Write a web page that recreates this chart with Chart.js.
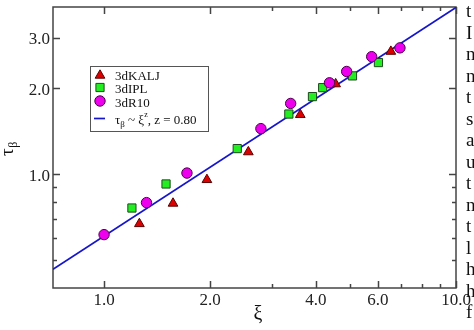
<!DOCTYPE html>
<html>
<head>
<meta charset="utf-8">
<script src="https://cdn.jsdelivr.net/npm/chart.js@4/dist/chart.umd.min.js"></script>
<style>
  html, body { margin: 0; padding: 0; background: #fff; overflow: hidden; }
  #wrap { position: relative; width: 474px; height: 330px; }
  #c { position: absolute; left: 0; top: 0; }
  #side { position: absolute; left: 466px; top: 0px; font: 19px "Liberation Serif", serif;
          line-height: 21.5px; color: #111; white-space: pre; }
</style>
</head>
<body>
<div id="wrap">
  <canvas id="c" width="474" height="330"></canvas>
  <div id="side">t
I
n
n
t
s
a
u
t
n
t
l
h
h
f</div>
</div>
<script>
// Relaxation time tau_beta versus length scale xi for three model liquids
const kaljX = [1.26, 1.57, 1.96, 2.57, 3.61, 4.55, 6.53];
const kaljY = [0.671, 0.791, 0.957, 1.197, 1.616, 2.07, 2.69];

const iplX = [1.20, 1.50, 2.39, 3.35, 3.91, 4.18, 5.08, 6.02];
const iplY = [0.762, 0.925, 1.23, 1.625, 1.87, 2.01, 2.21, 2.46];

const r10X = [1.00, 1.32, 1.72, 2.79, 3.39, 4.37, 4.89, 5.76, 6.93];
const r10Y = [0.615, 0.796, 1.01, 1.445, 1.77, 2.09, 2.29, 2.58, 2.77];

// power-law fit tau_beta = A * xi^z
const fitA = 0.608;
const fitZ = 0.80;

// axis ranges and ticks
const xRange = [0.716, 10];
const yRange = [0.4, 3.85];
const xTicks = [1, 2, 4, 6, 10];
const xMinor = [3, 5, 7, 8, 9];
const yTicks = [1, 2, 3];
const yMinor = [0.5, 0.6, 0.7, 0.8, 0.9];

const fitX = xRange.slice();
const fitY = fitX.map(x => fitA * Math.pow(x, fitZ));

const pts = (xs, ys) => xs.map((x, i) => ({ x: x, y: ys[i] }));
const SERIF = '"Liberation Serif", "Times New Roman", serif';
const AXIS = '#444';

// inward tick marks on all four sides plus the frame
const framePlugin = {
  id: 'frame',
  beforeDatasetsDraw(chart) {
    const { ctx, chartArea: a, scales } = chart;
    ctx.save();
    ctx.strokeStyle = AXIS;
    ctx.lineWidth = 1.5;
    ctx.strokeRect(a.left, a.top, a.right - a.left, a.bottom - a.top);
    ctx.beginPath();
    const xt = (v, len) => {
      const px = Math.round(scales.x.getPixelForValue(v)) + 0.5;
      ctx.moveTo(px, a.bottom); ctx.lineTo(px, a.bottom - len);
      ctx.moveTo(px, a.top); ctx.lineTo(px, a.top + len);
    };
    const yt = (v, len) => {
      const py = Math.round(scales.y.getPixelForValue(v)) + 0.5;
      ctx.moveTo(a.left, py); ctx.lineTo(a.left + len, py);
      ctx.moveTo(a.right, py); ctx.lineTo(a.right - len, py);
    };
    xTicks.forEach(v => xt(v, 7));
    xMinor.forEach(v => xt(v, 4));
    yTicks.forEach(v => yt(v, 7));
    yMinor.forEach(v => yt(v, 4));
    ctx.stroke();
    ctx.restore();
  }
};

// axis titles and the legend box
const annotPlugin = {
  id: 'annot',
  afterDraw(chart) {
    const ctx = chart.ctx;
    const ds = chart.data.datasets;
    ctx.save();
    ctx.fillStyle = '#111';

    // x title
    ctx.font = '20px ' + SERIF;
    ctx.textAlign = 'center';
    ctx.textBaseline = 'alphabetic';
    ctx.fillText('\u03BE', 258, 320);

    // y title, rotated, with subscript
    ctx.save();
    ctx.translate(13, 156);
    ctx.rotate(-Math.PI / 2);
    ctx.textAlign = 'left';
    ctx.font = '19px ' + SERIF;
    ctx.fillText('\u03C4', 0, 0);
    const tw = ctx.measureText('\u03C4').width;
    ctx.font = '12px ' + SERIF;
    ctx.fillText('\u03B2', tw + 0.5, 4);
    ctx.restore();

    // legend
    const bx = 90.5, by = 66.5, bw = 118, bh = 65;
    ctx.fillStyle = '#fff';
    ctx.fillRect(bx, by, bw, bh);
    ctx.strokeStyle = '#555';
    ctx.lineWidth = 1;
    ctx.strokeRect(bx, by, bw, bh);

    const rowY = [74, 87.5, 101];
    ctx.textAlign = 'left';
    ctx.textBaseline = 'alphabetic';
    for (let i = 0; i < 3; i++) {
      const d = ds[i];
      ctx.fillStyle = d.backgroundColor;
      ctx.strokeStyle = d.borderColor;
      ctx.lineWidth = d.borderWidth;
      const yOff = d.pointStyle === 'triangle' ? 1.4 : 0;
      Chart.helpers.drawPoint(ctx, { pointStyle: d.pointStyle, radius: d.pointRadius, borderWidth: d.borderWidth, rotation: 0 }, 100, rowY[i] + yOff);
      ctx.fillStyle = '#111';
      ctx.font = '13px ' + SERIF;
      ctx.fillText(d.label, 115, rowY[i] + 5.5);
    }
    // fit line entry
    const fd = ds[3];
    ctx.strokeStyle = fd.borderColor;
    ctx.lineWidth = fd.borderWidth;
    ctx.beginPath();
    ctx.moveTo(94, 118.5); ctx.lineTo(105, 118.5);
    ctx.stroke();
    ctx.fillStyle = '#111';
    let x = 115;
    const base = 123.5;
    const put = (t, size, dy) => {
      ctx.font = size + 'px ' + SERIF;
      ctx.fillText(t, x, base + dy);
      x += ctx.measureText(t).width;
    };
    put('\u03C4', 13, 0);
    put('\u03B2', 9, 3);
    put(' ~ \u03BE', 13, 0);
    put('z', 8, -7);
    put(', z = ' + fitZ.toFixed(2), 13, 0);
    ctx.restore();
  }
};

new Chart(document.getElementById('c'), {
  type: 'scatter',
  data: {
    datasets: [
      { label: '3dKALJ', data: pts(kaljX, kaljY), pointStyle: 'triangle', pointRadius: 5.6,
        backgroundColor: '#dd0000', borderColor: '#5a0000', borderWidth: 1, order: 2 },
      { label: '3dIPL', data: pts(iplX, iplY), pointStyle: 'rect', pointRadius: 5.8,
        backgroundColor: '#22ee22', borderColor: '#1d4a1d', borderWidth: 1, order: 1 },
      { label: '3dR10', data: pts(r10X, r10Y), pointStyle: 'circle', pointRadius: 5.2,
        backgroundColor: '#ee00ee', borderColor: '#4a004a', borderWidth: 1, order: 0 },
      { label: 'fit', type: 'line', data: pts(fitX, fitY), showLine: true, pointRadius: 0,
        borderColor: '#1515cc', borderWidth: 1.7, fill: false, order: 3 }
    ]
  },
  options: {
    responsive: false,
    devicePixelRatio: 1,
    animation: false,
    events: [],
    layout: { padding: { top: 7, right: 18, left: 0, bottom: 0 } },
    plugins: { legend: { display: false }, tooltip: { enabled: false } },
    scales: {
      x: {
        type: 'logarithmic', min: xRange[0], max: xRange[1], bounds: 'data',
        grid: { display: false, drawTicks: false }, border: { display: false },
        ticks: { autoSkip: false, maxRotation: 0, padding: 2, color: '#222',
                 font: { family: SERIF, size: 17 },
                 callback: v => Number(v).toFixed(1) },
        afterBuildTicks: s => { s.ticks = xTicks.map(v => ({ value: v })); },
        afterFit: s => { s.height = 42; s.paddingLeft = 0; s.paddingRight = 0; }
      },
      y: {
        type: 'logarithmic', min: yRange[0], max: yRange[1], bounds: 'data',
        grid: { display: false, drawTicks: false }, border: { display: false },
        ticks: { autoSkip: false, padding: 3, labelOffset: 2, color: '#222',
                 font: { family: SERIF, size: 17 },
                 callback: v => Number(v).toFixed(1) },
        afterBuildTicks: s => { s.ticks = yTicks.map(v => ({ value: v })); },
        afterFit: s => { s.width = 53; s.paddingTop = 0; s.paddingBottom = 0; }
      }
    }
  },
  plugins: [framePlugin, annotPlugin]
});
</script>
</body>
</html>
